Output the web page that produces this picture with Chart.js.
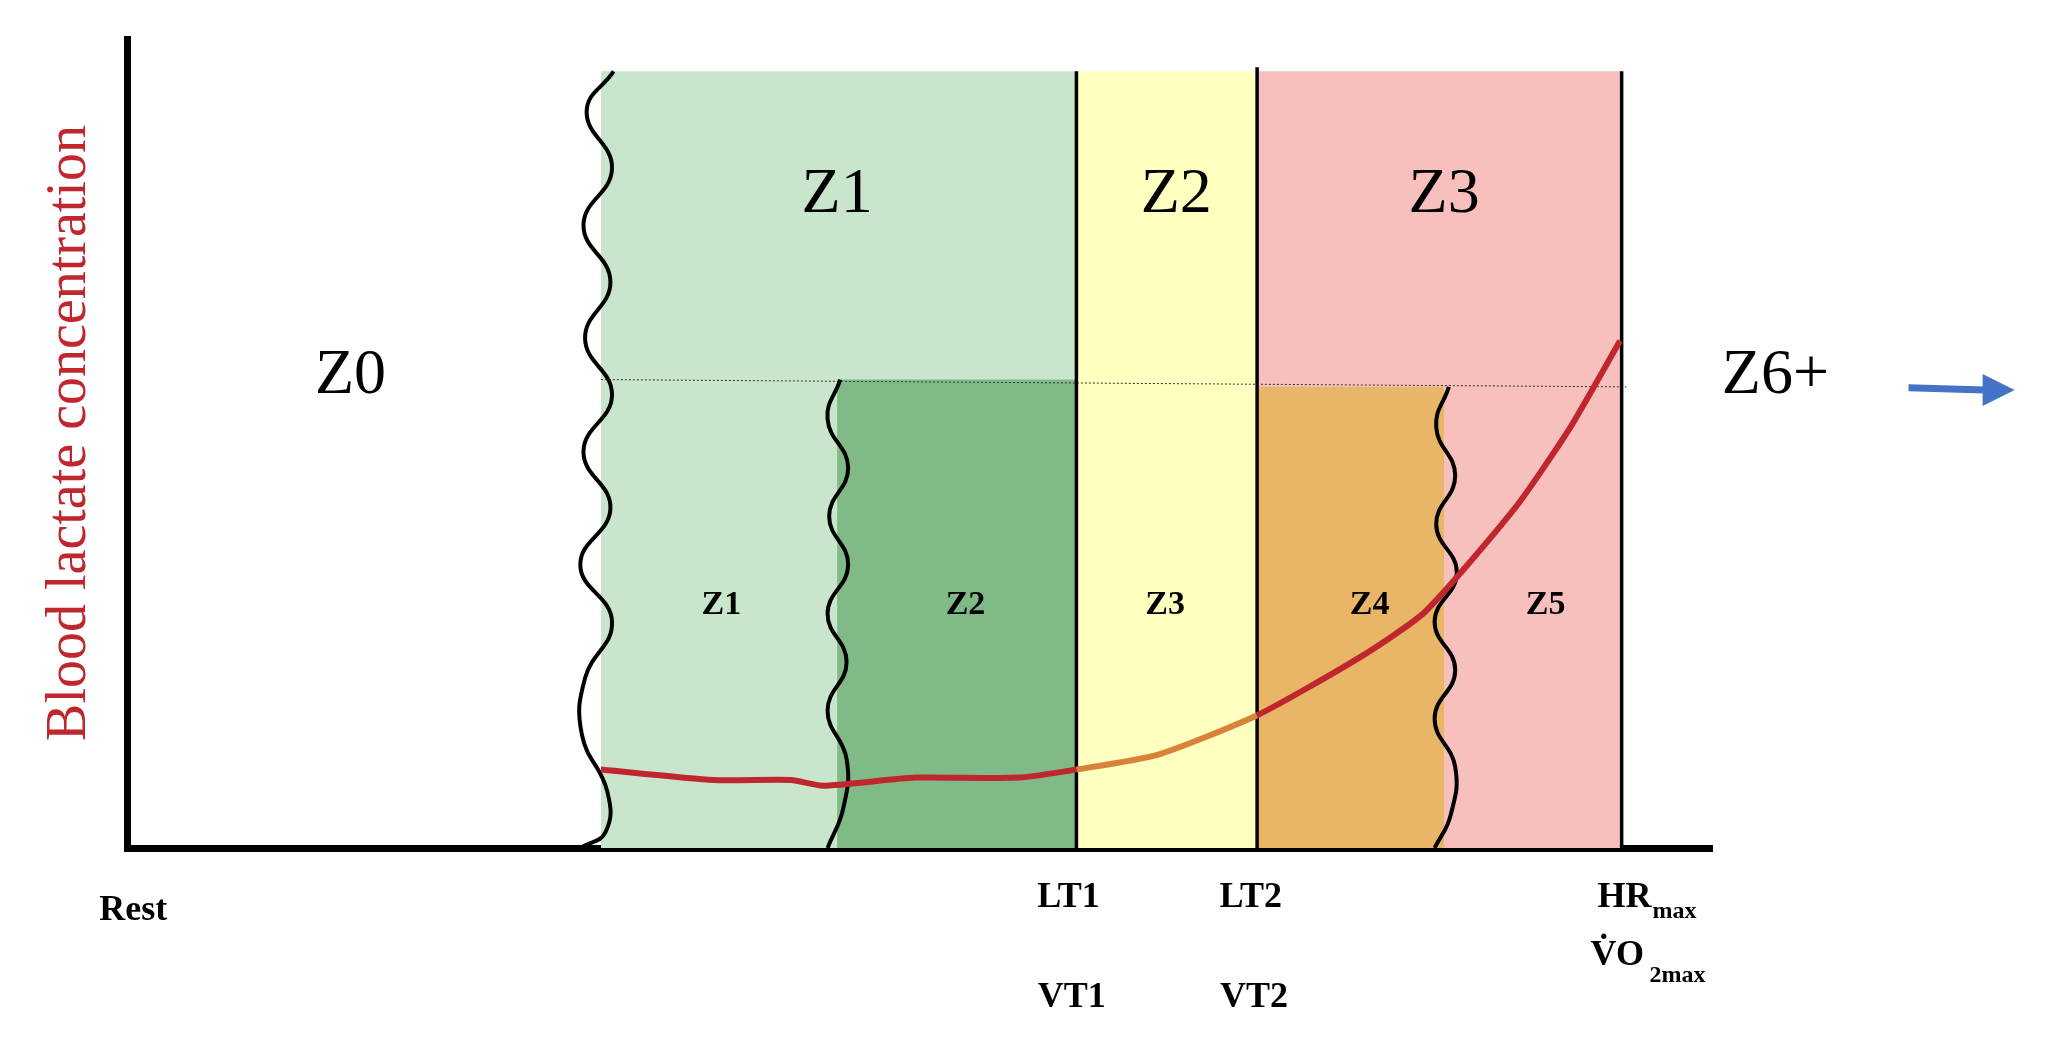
<!DOCTYPE html>
<html><head><meta charset="utf-8">
<script src="https://cdn.jsdelivr.net/npm/chart.js@4.4.0/dist/chart.umd.min.js"></script>
<style>html,body{margin:0;padding:0;background:#fff}#c{width:2048px;height:1062px;display:block}</style>
</head><body><canvas id="c" width="2048" height="1062"></canvas>
<script>
// zone bounds (intensity %, lactate %)
var zoneX = [29.9, 44.8, 59.9, 71.3, 83.1, 94.3];
var zoneTop = 96;
var splitY = [57.9, 57.0];

// lactate curve
var lactX = [29.9, 37.0, 41.9, 43.9, 49.7, 56.3, 59.9, 65.0, 71.3, 77.8, 81.9, 87.6, 91.0, 94.2];
var lactY = [9.7, 8.4, 8.4, 7.7, 8.7, 8.7, 9.7, 11.5, 16.4, 23.6, 29.2, 42.1, 51.8, 62.7];

// wavy borders
var wave1Y = [96, 91, 84, 77, 70, 63, 56, 49, 42, 35, 28, 21, 14, 7, 2, 0];
var wave1X = [30.7, 29.0, 30.6, 28.8, 30.5, 28.9, 30.6, 28.8, 30.5, 28.6, 30.6, 28.9, 28.7, 30.3, 30.2, 28.6];
var wave2Y = [57.9, 53, 47, 41, 35, 29, 23, 17, 11, 5, 0];
var wave2X = [45.0, 44.2, 45.5, 44.3, 45.5, 44.2, 45.4, 44.2, 45.4, 45.2, 44.2];
var wave3Y = [57.0, 52, 46, 40, 34, 28, 22, 16, 10, 4, 0];
var wave3X = [83.4, 82.6, 83.8, 82.6, 83.9, 82.5, 83.8, 82.5, 83.8, 83.5, 82.5];

var bigLabels = [["Z0", 14.1, 58.3], ["Z1", 44.8, 80.7], ["Z2", 66.2, 80.7], ["Z3", 83.1, 80.7], ["Z6+", 104.0, 58.3]];
var smallLabels = [["Z1", 37.5, 30.0], ["Z2", 52.9, 30.0], ["Z3", 65.5, 30.0], ["Z4", 78.4, 30.0], ["Z5", 89.5, 30.0]];
var tickLabels = [["Rest", 0.4, -7.7], ["LT1", 59.4, -6.1], ["LT2", 70.9, -6.1], ["VT1", 59.6, -18.5], ["VT2", 71.1, -18.5]];
var arrowX = [112.4, 117.2];
var arrowY = [56.9, 56.6];

function pts(xs, ys) { return xs.map(function(x, i) { return {x: x, y: ys[i]}; }); }
function box(x0, x1, top, color) {
  return {data: [{x: x0, y: top}, {x: x1, y: top}], fill: 'origin', backgroundColor: color,
    borderWidth: 0, pointRadius: 0, tension: 0};
}
function vline(x, top, w) {
  return {data: [{x: x, y: 0}, {x: x, y: top}], borderColor: '#000', borderWidth: w, pointRadius: 0, fill: false};
}
function wave(xs, ys) {
  return {data: pts(xs, ys), borderColor: '#000', borderWidth: 4, pointRadius: 0, fill: false, tension: 0.45, clip: false};
}

var textPlugin = {
  id: 'texts',
  afterDatasetsDraw: function(chart) {
    var c = chart.ctx, sx = chart.scales.x, sy = chart.scales.y;
    c.save();
    // arrow head
    var ax = sx.getPixelForValue(arrowX[1]), ay = sy.getPixelForValue(arrowY[1]);
    c.fillStyle = '#4472c4';
    c.beginPath(); c.moveTo(ax - 2, ay - 16); c.lineTo(ax + 30, ay); c.lineTo(ax - 2, ay + 16); c.closePath(); c.fill();
    c.textAlign = 'center'; c.textBaseline = 'middle'; c.fillStyle = '#000';
    c.font = '64px "Liberation Serif"';
    bigLabels.forEach(function(l) { c.fillText(l[0], sx.getPixelForValue(l[1]), sy.getPixelForValue(l[2])); });
    c.font = 'bold 34px "Liberation Serif"';
    smallLabels.forEach(function(l) { c.fillText(l[0], sx.getPixelForValue(l[1]), sy.getPixelForValue(l[2])); });
    c.font = 'bold 36px "Liberation Serif"';
    tickLabels.forEach(function(l) { c.fillText(l[0], sx.getPixelForValue(l[1]), sy.getPixelForValue(l[2])); });
    // HRmax / VO2max
    var hx = sx.getPixelForValue(96.0), hy = sy.getPixelForValue(-6.1), vy = sy.getPixelForValue(-13.3);
    c.textAlign = 'left';
    c.fillText('HR', hx - 51, hy);
    c.font = 'bold 24px "Liberation Serif"';
    c.fillText('max', hx + 4, hy + 14);
    c.font = 'bold 36px "Liberation Serif"';
    c.fillText('V\u0307O', hx - 58, vy);
    c.font = 'bold 24px "Liberation Serif"';
    c.fillText('2max', hx + 1, vy + 20);
    // y title
    c.font = '56px "Liberation Serif"'; c.fillStyle = '#c0262d'; c.textAlign = 'center';
    c.translate(70, 433); c.rotate(-Math.PI / 2); c.fillText('Blood lactate concentration', 0, 0);
    c.restore();
  }
};

// later entries are drawn first, so the list runs from top layer to bottom layer
var layers = [
  {data: pts(arrowX, arrowY), borderColor: '#4472c4', borderWidth: 7, fill: false, clip: false, pointRadius: 0},
  {data: pts(lactX, lactY), borderWidth: 6, pointRadius: 0, fill: false, tension: 0.2, borderColor: '#c0262d',
    segment: {borderColor: function(ctx) { var x = ctx.p0.parsed.x; return (x >= 59.9 && x < 71.3) ? '#d9833a' : '#c0262d'; }}},
  vline(zoneX[2], zoneTop, 3.5), vline(zoneX[3], 96.5, 3.5), vline(zoneX[5], zoneTop, 3.5),
  wave(wave1X, wave1Y), wave(wave2X, wave2Y), wave(wave3X, wave3Y),
  {data: [{x: zoneX[0], y: splitY[0]}, {x: 94.6, y: splitY[1]}], borderColor: '#333', borderWidth: 1, borderDash: [2, 2], pointRadius: 0, fill: false},
  box(zoneX[3], zoneX[4], splitY[1], '#e9b566'),
  box(zoneX[1], zoneX[2], splitY[0], '#80bb87'),
  box(zoneX[3], zoneX[5], zoneTop, '#f8c0bd'),
  box(zoneX[2], zoneX[3], zoneTop, '#ffffbf'),
  box(zoneX[0], zoneX[2], zoneTop, '#c9e6cd')
];

new Chart(document.getElementById('c'), {
  type: 'line',
  data: {datasets: layers},
  options: {
    responsive: false, animation: false, events: [],
    layout: {padding: {left: 119, right: 336, top: 39, bottom: 206}},
    plugins: {legend: {display: false}, tooltip: {enabled: false}},
    scales: {
      x: {type: 'linear', min: 0, max: 100, ticks: {display: false}, grid: {display: false},
        border: {display: true, color: '#000', width: 7}},
      y: {type: 'linear', min: 0, max: 100, ticks: {display: false}, grid: {display: false},
        border: {display: true, color: '#000', width: 7}}
    }
  },
  plugins: [textPlugin]
});
</script></body></html>
